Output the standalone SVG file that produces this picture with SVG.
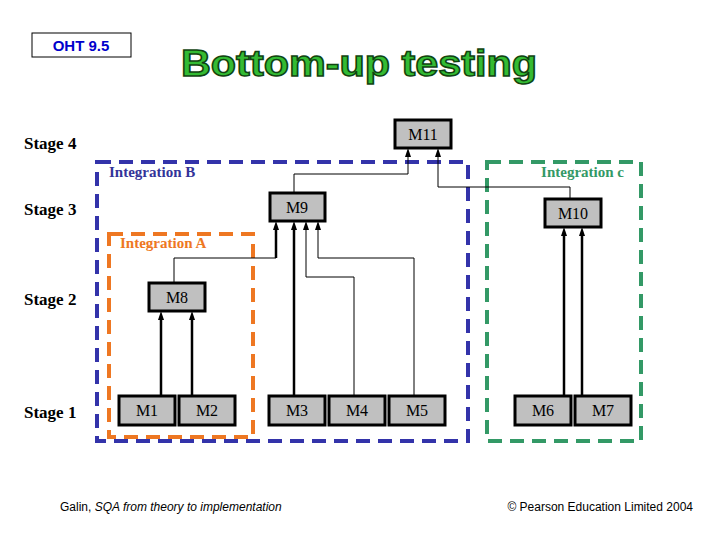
<svg xmlns="http://www.w3.org/2000/svg" width="720" height="540" viewBox="0 0 720 540">
<defs>
<style>
.n{fill:#c0c0c0;stroke:#000;stroke-width:3}
.nt{font-family:"Liberation Serif",serif;font-size:16px;text-anchor:middle}
.st{font-family:"Liberation Serif",serif;font-size:17px;font-weight:bold}
.il{font-family:"Liberation Serif",serif;font-size:15px;font-weight:bold}
.th{fill:none;stroke:#000;stroke-width:2;marker-end:url(#a)}
.tn{fill:none;stroke:#000;stroke-width:1}
</style>
<marker id="a" viewBox="0 0 6 6" refX="3" refY="6" markerWidth="3" markerHeight="3" orient="auto-start-reverse"><path d="M0,6 L3,0 L6,6 Z" transform="rotate(0)"/></marker>
<marker id="u" viewBox="0 0 6 8" refX="3" refY="0" markerWidth="6" markerHeight="8" markerUnits="userSpaceOnUse" orient="0"><path d="M0,8 L3,0 L6,8 Z"/></marker>
</defs>
<rect width="720" height="540" fill="#fff"/>
<rect x="32" y="33" width="99" height="24" fill="#fff" stroke="#000"/>
<text x="81" y="51" text-anchor="middle" font-family="Liberation Sans,sans-serif" font-weight="bold" font-size="15" fill="#0000cc">OHT 9.5</text>
<text x="181" y="76" textLength="356" lengthAdjust="spacingAndGlyphs" font-family="Liberation Sans,sans-serif" font-weight="900" font-size="37" fill="#33bb33" stroke="#114411" stroke-width="1.5">Bottom-up testing</text>
<g id="stages">
<text class="st" x="24" y="149">Stage 4</text>
<text class="st" x="24" y="215">Stage 3</text>
<text class="st" x="24" y="305">Stage 2</text>
<text class="st" x="24" y="418">Stage 1</text>
</g>
<g id="groups" fill="none" stroke-width="4" stroke-dasharray="14,8">
<rect x="97" y="162" width="371" height="279" stroke="#3333aa"/>
<rect x="109" y="234" width="144" height="203" stroke="#ee7722"/>
<rect x="487" y="162" width="154" height="279" stroke="#339966"/>
</g>
<text class="il" x="109" y="177" fill="#333399">Integration B</text>
<text class="il" x="624" y="177" fill="#339966" text-anchor="end">Integration c</text>
<text class="il" x="120" y="248" fill="#ee7722">Integration A</text>
<g id="connectors">
<path class="tn" d="M174,283 V258 H276 V229"/>
<path class="tn" d="M354,396 V277 H306 V229"/>
<path class="tn" d="M414,396 V258 H318 V229"/>
<path class="tn" d="M294,192 V174 H408 V156"/>
<path class="tn" d="M570,198 V187 H438 V156"/>
<g stroke="#000" stroke-width="2.5" fill="none">
<path d="M161,396 V318"/><path d="M192,396 V318"/>
<path d="M294,396 V229"/><path d="M276,258 V229"/>
<path d="M564,396 V234"/><path d="M582,396 V234"/>
</g>
<g>
<path d="M158,320 L161,311 L164,320 Z"/><path d="M189,320 L192,311 L195,320 Z"/>
<path d="M273,230 L276,221 L279,230 Z"/><path d="M291,230 L294,221 L297,230 Z"/>
<path d="M303,230 L306,221 L309,230 Z"/><path d="M315,230 L318,221 L321,230 Z"/>
<path d="M405,157 L408,148 L411,157 Z"/><path d="M435,157 L438,148 L441,157 Z"/>
<path d="M561,236 L564,227 L567,236 Z"/><path d="M579,236 L582,227 L585,236 Z"/>
</g>
</g>
<g id="M11"><rect class="n" x="395" y="120" width="56" height="28"/><text class="nt" x="423" y="140">M11</text></g>
<g id="M9"><rect class="n" x="270" y="193" width="55" height="28"/><text class="nt" x="297" y="213">M9</text></g>
<g id="M10"><rect class="n" x="545" y="199" width="56" height="28"/><text class="nt" x="573" y="219">M10</text></g>
<g id="M8"><rect class="n" x="149" y="283" width="56" height="28"/><text class="nt" x="177" y="303">M8</text></g>
<g id="M1"><rect class="n" x="119" y="396" width="56" height="29"/><text class="nt" x="147" y="416">M1</text></g>
<g id="M2"><rect class="n" x="179" y="396" width="56" height="29"/><text class="nt" x="207" y="416">M2</text></g>
<g id="M3"><rect class="n" x="269" y="396" width="56" height="29"/><text class="nt" x="297" y="416">M3</text></g>
<g id="M4"><rect class="n" x="329" y="396" width="56" height="29"/><text class="nt" x="357" y="416">M4</text></g>
<g id="M5"><rect class="n" x="389" y="396" width="56" height="29"/><text class="nt" x="417" y="416">M5</text></g>
<g id="M6"><rect class="n" x="515" y="396" width="56" height="29"/><text class="nt" x="543" y="416">M6</text></g>
<g id="M7"><rect class="n" x="575" y="396" width="56" height="29"/><text class="nt" x="603" y="416">M7</text></g>
<text x="60" y="511" font-family="Liberation Sans,sans-serif" font-size="12">Galin, <tspan font-style="italic">SQA from theory to implementation</tspan></text>
<text x="693" y="511" text-anchor="end" font-family="Liberation Sans,sans-serif" font-size="12">© Pearson Education Limited 2004</text>
</svg>
